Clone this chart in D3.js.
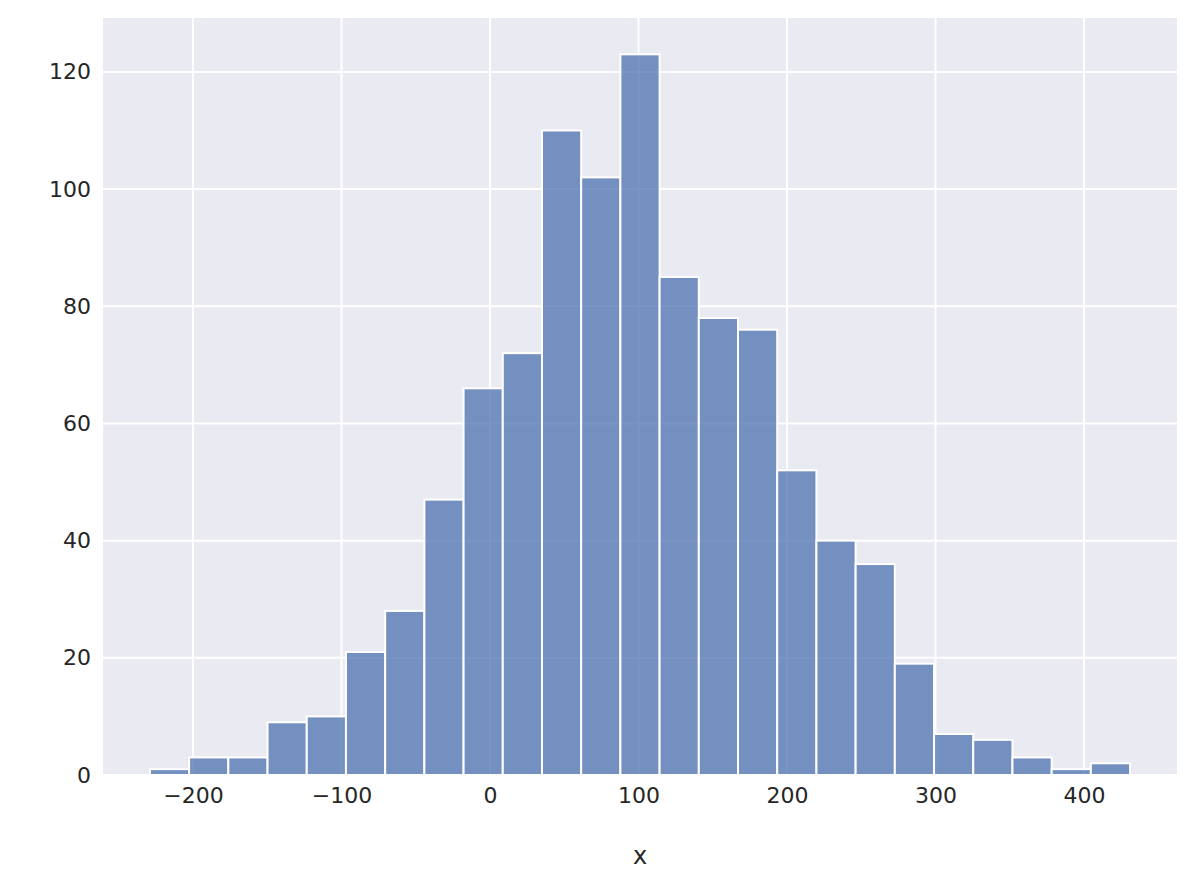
<!DOCTYPE html>
<html><head><meta charset="utf-8">
<script src="https://cdn.jsdelivr.net/npm/d3@7"></script>
<style>body{margin:0;background:#fff}</style></head>
<body><svg id="c" width="1198" height="890"></svg>
<script>
const binStart = -229.0;
const binWidth = 26.4;
const counts = [1,3,3,9,10,21,28,47,66,72,110,102,123,85,78,76,52,40,36,19,7,6,3,1,2];
const xTicks = [-200,-100,0,100,200,300,400];
const yTicks = [0,20,40,60,80,100,120];
const xLabel = "x";

const svg = d3.select("#c");
const L=103,R=1177,T=18,B=775;
const x = d3.scaleLinear().domain([-260.6,462.6]).range([L,R]);
const y = d3.scaleLinear().domain([0,129.2]).range([B,T]);
const font = "DejaVu Sans, sans-serif";

svg.append("rect").attr("x",L).attr("y",T).attr("width",R-L).attr("height",B-T).attr("fill","#eaeaf2");
const g = svg.append("g");
xTicks.forEach(t=>g.append("line").attr("x1",x(t)).attr("x2",x(t)).attr("y1",T).attr("y2",B).attr("stroke","#fff").attr("stroke-width",2));
yTicks.forEach(t=>g.append("line").attr("x1",L).attr("x2",R).attr("y1",y(t)).attr("y2",y(t)).attr("stroke","#fff").attr("stroke-width",2));

svg.append("g").selectAll("rect").data(counts).join("rect")
  .attr("x",(d,i)=>x(binStart+i*binWidth))
  .attr("width",(d,i)=>x(binStart+(i+1)*binWidth)-x(binStart+i*binWidth))
  .attr("y",d=>y(d)).attr("height",d=>B-y(d))
  .attr("fill","#4c72b0").attr("fill-opacity",0.75)
  .attr("stroke","#fff").attr("stroke-width",2);

const xa = svg.append("g").attr("transform",`translate(0,${B})`)
  .call(d3.axisBottom(x).tickValues(xTicks).tickSize(0).tickPadding(12).tickFormat(d=>d<0?"\u2212"+(-d):d));
const ya = svg.append("g").attr("transform",`translate(${L},0)`)
  .call(d3.axisLeft(y).tickValues(yTicks).tickSize(0).tickPadding(12));
[xa,ya].forEach(a=>{a.select(".domain").remove();a.selectAll("text").attr("font-family",font).attr("font-size",22).attr("fill","#262626");});
svg.append("text").attr("x",(L+R)/2).attr("y",864).attr("text-anchor","middle")
  .attr("font-family",font).attr("font-size",24).attr("fill","#262626").text(xLabel);
</script></body></html>
